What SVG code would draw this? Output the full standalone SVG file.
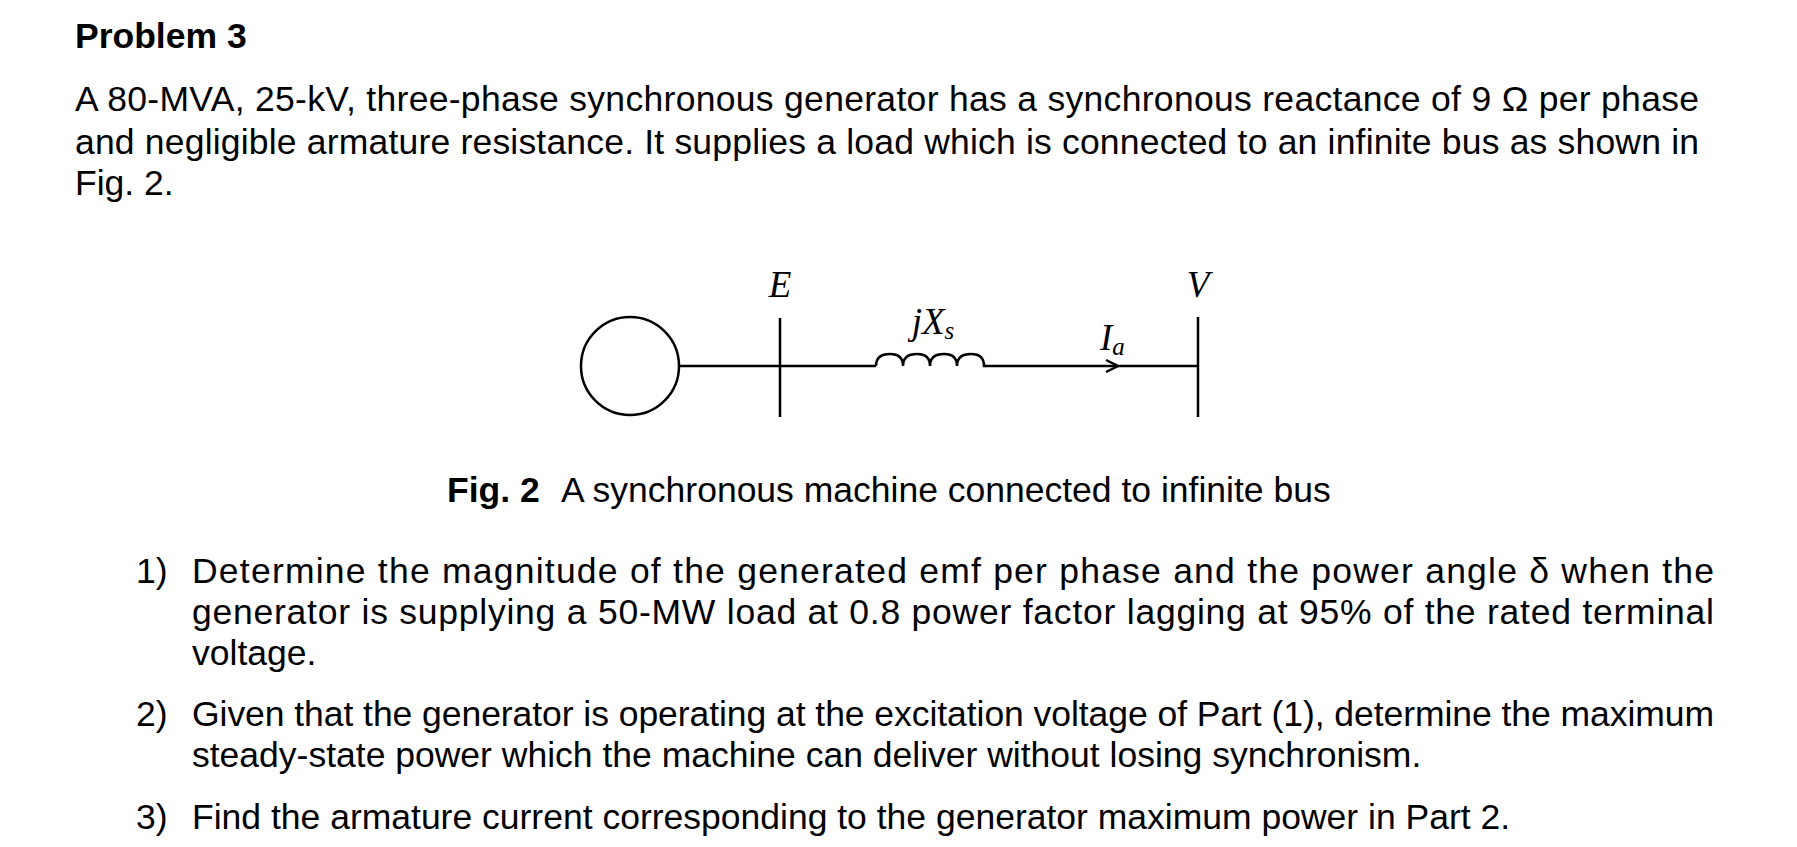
<svg xmlns="http://www.w3.org/2000/svg" width="1797" height="847" viewBox="0 0 1797 847">
<style>
.t{font-family:"Liberation Sans",Arial,sans-serif;font-size:35.5px;fill:#000}
.b{font-weight:bold}
.m{font-family:"Liberation Serif","Times New Roman",serif;font-style:italic;font-size:37px;fill:#000}
.w{stroke:#000;stroke-width:2.5;fill:none}
</style>
<rect width="1797" height="847" fill="#fff"/>
<text class="t b" x="75" y="48">Problem 3</text>
<text class="t" x="75" y="111" textLength="1624" lengthAdjust="spacing">A 80-MVA, 25-kV, three-phase synchronous generator has a synchronous reactance of 9 Ω per phase</text>
<text class="t" x="75" y="154" textLength="1624" lengthAdjust="spacing">and negligible armature resistance. It supplies a load which is connected to an infinite bus as shown in</text>
<text class="t" x="75" y="195">Fig. 2.</text>
<g id="generator"><circle class="w" cx="630" cy="366" r="49"/></g>
<g id="busE"><line class="w" x1="780" y1="318" x2="780" y2="417"/><text class="m" x="780" y="297" text-anchor="middle">E</text></g>
<g id="inductor"><path class="w" d="M876 366 q0 -12 14 -12 q13 0 13 12 q0 -12 14 -12 q13 0 13 12 q0 -12 14 -12 q13 0 13 12 q0 -12 14 -12 q13 0 13 12 h2"/><text class="m" x="933" y="334" text-anchor="middle">jX<tspan font-size="25" dy="5">s</tspan></text></g>
<g id="busV"><line class="w" x1="1198" y1="317" x2="1198" y2="417"/><text class="m" x="1198" y="297" text-anchor="middle">V</text></g>
<text class="m" x="1100" y="350">I<tspan font-size="25" dy="5">a</tspan></text>
<g id="connectors">
<line class="w" x1="679" y1="366" x2="876" y2="366"/>
<line class="w" x1="985" y1="366" x2="1198" y2="366"/>
<path class="w" d="M1106 360 l12 6 l-12 6"/>
</g>
<text class="t" x="447" y="502"><tspan class="b">Fig. 2</tspan><tspan x="561">A synchronous machine connected to infinite bus</tspan></text>
<text class="t" x="136" y="583">1)</text>
<text class="t" x="192" y="583" textLength="1522" lengthAdjust="spacing">Determine the magnitude of the generated emf per phase and the power angle δ when the</text>
<text class="t" x="192" y="624" textLength="1522" lengthAdjust="spacing">generator is supplying a 50-MW load at 0.8 power factor lagging at 95% of the rated terminal</text>
<text class="t" x="192" y="665">voltage.</text>
<text class="t" x="136" y="726">2)</text>
<text class="t" x="192" y="726" textLength="1522" lengthAdjust="spacing">Given that the generator is operating at the excitation voltage of Part (1), determine the maximum</text>
<text class="t" x="192" y="767">steady-state power which the machine can deliver without losing synchronism.</text>
<text class="t" x="136" y="829">3)</text>
<text class="t" x="192" y="829">Find the armature current corresponding to the generator maximum power in Part 2.</text>
</svg>
